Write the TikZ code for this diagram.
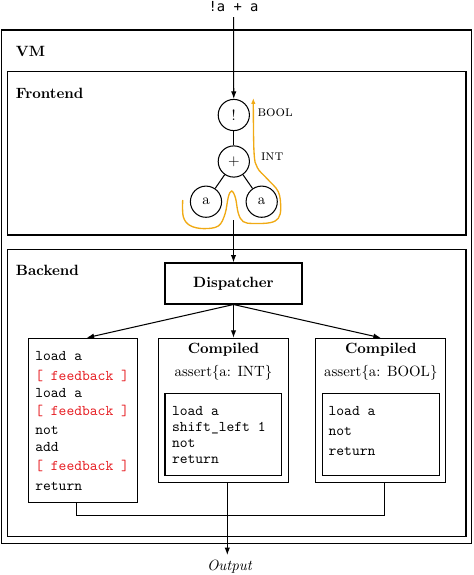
\documentclass[tikz,border=0pt]{standalone}
\usepackage{fontspec}
\newfontfamily\topfont{DejaVu Sans Mono}
\usetikzlibrary{arrows.meta,calc}
\definecolor{orangeline}{RGB}{240,170,20}
\definecolor{fbred}{RGB}{230,30,35}
\begin{document}
\begin{tikzpicture}[x=0.673pt,y=-0.673pt,
  box/.style={draw, line width=0.7pt, inner sep=0pt},
  circ/.style={draw, circle, line width=0.7pt, minimum size=21pt, inner sep=0pt},
  code/.style={anchor=west, font=\ttfamily, inner sep=0pt, text height=6pt, text depth=1.5pt},
  fb/.style={code, text=fbred},
  lbl/.style={anchor=west, font=\bfseries, inner sep=0pt},
  arr/.style={-{Latex[length=5pt,width=3.6pt]}, line width=0.7pt},
  conn/.style={line width=0.7pt},
  tag/.style={anchor=west, font=\scshape, inner sep=0pt}]
\useasboundingbox (0,0) rectangle (474,575);
% containers
\draw[conn] (1.7,30) rectangle (471.7,543.3);
\draw[conn] (7.5,71.7) rectangle (466,235);
\draw[conn] (7.5,249.5) rectangle (466,536.3);
\node[lbl] (vm) at (15.7,51.7) {VM};
\node[lbl] (fe) at (15.7,93) {Frontend};
\node[lbl] (be) at (15.7,270.7) {Backend};
% frontend tree
\node[font=\topfont\fontsize{9.3}{11}\selectfont] (expr) at (233.5,6.7) {!a + a};
\node[circ] (not) at (233.8,115) {!};
\node[circ] (plus) at (233.8,161.5) {$+$};
\node[circ] (a1) at (206,201.7) {a};
\node[circ] (a2) at (261.7,201.7) {a};
\draw[arr] (expr) -- (not);
\draw[conn] (not) -- (plus);
\draw[conn] (plus) -- (a1);
\draw[conn] (plus) -- (a2);
\node[tag] (tbool) at (257.3,112.3) {bool};
\node[tag] (tint) at (260.7,156.7) {int};
\draw[orangeline, line width=0.9pt, -{Latex[length=4pt,width=3pt]}]
  plot[smooth, tension=0.6] coordinates {(182.7,200) (183.3,216.7) (190,225.5) (203.3,228.6) (218.3,226) (225,214) (228.3,197) (231.7,191) (235.5,198) (238.3,213.3) (243.3,221.7) (253.3,223.5) (270,222.7) (278.3,218.3) (280.7,208.3) (278.3,191.7) (266.7,178.3) (257.3,167.5) (254,151.7) (253.3,98)};
% backend
\coordinate (feout) at (233.5,220);
\node[box, minimum width=92.2pt, minimum height=27.6pt, font=\bfseries] (disp) at (233.5,283.5) {Dispatcher};
\draw[arr] (feout) -- (disp);
\node[box, minimum width=73.6pt, minimum height=110.4pt] (left) at (83,420.3) {};
\node[box, minimum width=87.5pt, minimum height=96.9pt] (mid) at (223.3,410.3) {};
\node[box, minimum width=87.7pt, minimum height=96.9pt] (right) at (380.8,410.3) {};
\node[box, minimum width=78.5pt, minimum height=55pt] (midin) at (223.3,434.2) {};
\node[box, minimum width=78.5pt, minimum height=55pt] (rightin) at (380.7,434.2) {};
\draw[arr] (disp.south) -- ([xshift=2.5pt]left.north);
\draw[arr] (disp.south) -- (disp.south |- mid.north);
\draw[arr] (disp.south) -- (right.north);
% left box code
\node[code] (l1) at (35,356.7) {load a};
\node[fb] (l2) at (35,376.7) {[ feedback ]};
\node[code] (l3) at (35,394) {load a};
\node[fb] (l4) at (35,411.7) {[ feedback ]};
\node[code] (l5) at (35,431) {not};
\node[code] (l6) at (35,447.7) {add};
\node[fb] (l7) at (35,466.7) {[ feedback ]};
\node[code] (l8) at (35,486.7) {return};
% middle box
\node[font=\bfseries] (midt) at (223.5,350) {Compiled};
\node (mida) at (223.5,372.7) {assert\{a: INT\}};
\node[code] (m1) at (171.7,411.7) {load a};
\node[code] (m2) at (171.7,428.3) {shift\_left 1};
\node[code] (m3) at (171.7,444) {not};
\node[code] (m4) at (171.7,460) {return};
% right box
\node[font=\bfseries] (rightt) at (380.8,350) {Compiled};
\node (righta) at (380.8,372.7) {assert\{a: BOOL\}};
\node[code] (r1) at (328.3,411.7) {load a};
\node[code] (r2) at (328.3,431.7) {not};
\node[code] (r3) at (328.3,452.3) {return};
% joining and output
\coordinate (join) at (227.3,515.7);
\draw[conn] ([xshift=-4.4pt]left.south) |- (join) -| ([xshift=2.2pt]right.south);
\node[font=\itshape] (output) at (229.5,567) {Output};
\draw[arr] ([xshift=2.7pt]mid.south) -- ([xshift=2.7pt]mid.south |- output.north);
\end{tikzpicture}
\end{document}
